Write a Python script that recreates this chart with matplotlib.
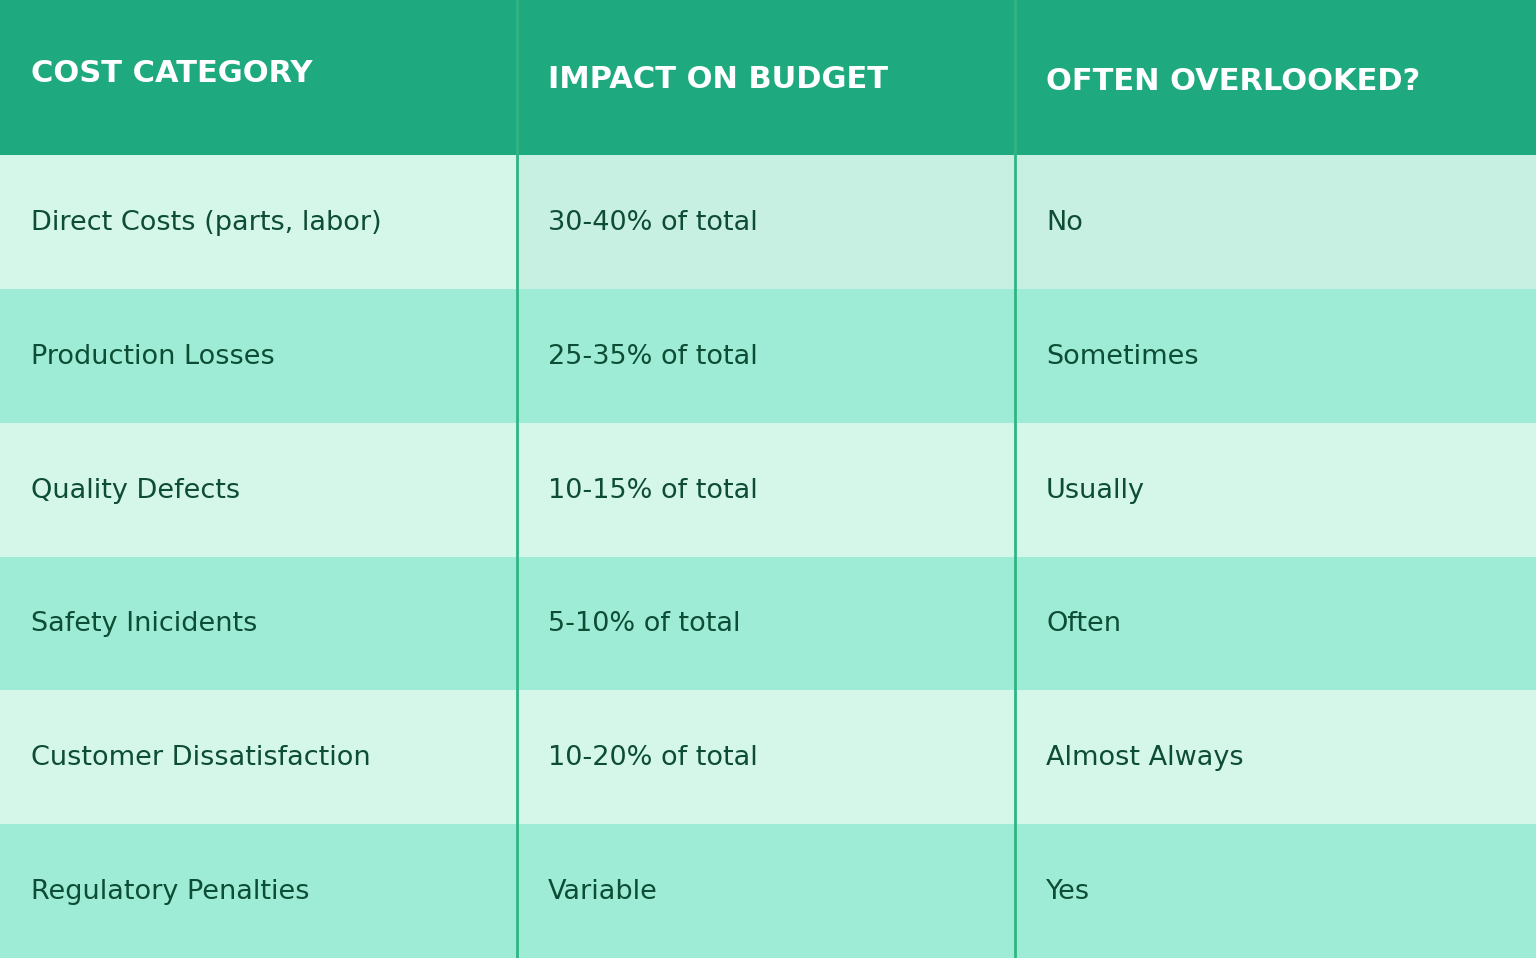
import matplotlib
matplotlib.use("Agg")
import matplotlib.pyplot as plt
from matplotlib.patches import Rectangle

headers = ["COST CATEGORY", "IMPACT ON BUDGET", "OFTEN OVERLOOKED?"]
categories = ["Direct Costs (parts, labor)", "Production Losses", "Quality Defects",
              "Safety Inicidents", "Customer Dissatisfaction", "Regulatory Penalties"]
impact = ["30-40% of total", "25-35% of total", "10-15% of total",
          "5-10% of total", "10-20% of total", "Variable"]
overlooked = ["No", "Sometimes", "Usually", "Often", "Almost Always", "Yes"]

col_edges = [0, 517, 1015, 1536]
header_h = 155
row_h = (958 - header_h) / 6
header_y = [73, 79, 81]

fig = plt.figure(figsize=(15.36, 9.58), dpi=100)
ax = fig.add_axes([0, 0, 1, 1])
ax.set_xlim(0, 1536)
ax.set_ylim(958, 0)
ax.axis("off")

hdr_col = "#1eaa7e"
light = "#d4f7ea"
light2 = "#c8f0e2"
dark = "#9eecd5"
txt = "#0e4d35"
line = "#2fb585"

ax.add_patch(Rectangle((0, 0), 1536, header_h, color=hdr_col, lw=0))
for i, h in enumerate(headers):
    ax.text(col_edges[i] + 31, header_y[i], h, color="white", fontsize=22,
            fontweight="bold", family="DejaVu Sans", va="center", ha="left")

cols = [categories, impact, overlooked]
for r in range(6):
    y0 = header_h + r * row_h
    for c in range(3):
        if r % 2 == 1:
            fc = dark
        elif r == 0 and c > 0:
            fc = light2
        else:
            fc = light
        ax.add_patch(Rectangle((col_edges[c], y0), col_edges[c + 1] - col_edges[c],
                               row_h, color=fc, lw=0))
        ax.text(col_edges[c] + 31, y0 + row_h / 2 + 1, cols[c][r], color=txt,
                fontsize=19.5, family="DejaVu Sans", va="center", ha="left")

for x in col_edges[1:3]:
    ax.plot([x, x], [0, 958], color=line, lw=2)

fig.savefig("out.png", dpi=100)
